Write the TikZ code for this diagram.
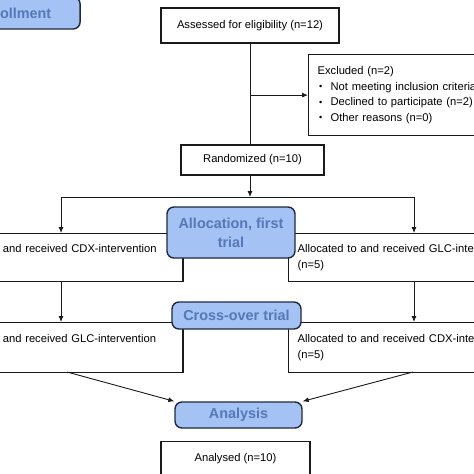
\documentclass[tikz,border=0pt]{standalone}
\usepackage{fontspec}
\setmainfont{Liberation Sans}
\usetikzlibrary{arrows.meta}
\definecolor{stagefill}{HTML}{A4C2F4}
\definecolor{stagetext}{HTML}{5479B6}
\definecolor{stageline}{HTML}{1E2A40}
\definecolor{boxline}{HTML}{1A1A1A}
\newcommand{\exitem}[1]{\hspace*{1.5pt}\makebox[11.5pt][l]{\raisebox{0.5pt}{\small\textbullet}}#1}

\begin{document}
\begin{tikzpicture}[
	x=1pt, y=-1pt,
	>={Latex[length=6pt,width=5pt]},
	flow/.style={draw=boxline, line width=0.9pt},
	box/.style={rectangle, draw=boxline, fill=white, line width=1.2pt, font=\fontsize{11.2}{16}\selectfont, inner sep=0pt},
	arm/.style={box, anchor=north west, minimum height=48pt, text width=234pt, inner xsep=9pt, align=left},
	stage/.style={rectangle, rounded corners=7pt, draw=stageline, fill=stagefill, line width=1.4pt, text=stagetext, font=\fontsize{14.4}{19}\selectfont\bfseries, align=center, inner sep=0pt}
	]
	\clip (0,0) rectangle (474,474);
	\fill[white] (0,0) rectangle (474,474);

	\node[box, minimum width=178pt, minimum height=35pt] (assess) at (250,25.5) {Assessed for eligibility (n=12)};
	\node[box, anchor=north west, minimum height=81pt, text width=200pt, inner xsep=9pt, align=left, font=\fontsize{11.2}{15.5}\selectfont] (excl) at (308,54)
		{Excluded (n=2)\\\exitem{Not meeting inclusion criteria}\\\exitem{Declined to participate (n=2)}\\\exitem{Other reasons (n=0)}};
	\node[box, minimum width=143pt, minimum height=30pt] (rand) at (252.5,160) {Randomized (n=10)};

	\node[arm] (cdxA) at (-69.6,233) {Allocated to and received CDX-intervention\\(n=5)};
	\node[arm] (glcA) at (288,233) {Allocated to and received GLC-intervention\\(n=5)};
	\node[arm, minimum height=50pt] (glcB) at (-69.6,322) {Allocated to and received GLC-intervention\\(n=5)};
	\node[arm, minimum height=50pt] (cdxB) at (288,322) {Allocated to and received CDX-intervention\\(n=5)};
	\node[box, anchor=north, minimum width=149pt, minimum height=33pt] (analysed) at (235.5,441) {Analysed (n=10)};

	\node[stage, minimum width=133pt, minimum height=32pt] (enrol) at (13.6,13) {Enrollment};
	\node[stage, minimum width=128pt, minimum height=51pt] (alloc) at (231,232.5) {Allocation, first\\trial};
	\node[stage, minimum width=129pt, minimum height=27pt] (cross) at (236.5,315.5) {Cross-over trial};
	\node[stage, minimum width=127pt, minimum height=26pt] (analysis) at (238.5,415) {Analysis};

	\coordinate (splitL) at (61,197);
	\coordinate (splitR) at (414,197);
	\coordinate (fromL) at (67,372);
	\coordinate (fromR) at (413,372);

	\draw[flow] (assess.south) -- (assess.south |- rand.north);
	\draw[flow,->] (assess.south |- excl.west) -- (excl.west);
	\draw[flow,->] (assess.south |- rand.south) -- (assess.south |- splitL);
	\draw[flow] (splitL) -- (splitR);
	\draw[flow,->] (splitL) -- (splitL |- cdxA.north);
	\draw[flow,->] (splitR) -- (splitR |- glcA.north);
	\draw[flow,->] (splitL |- cdxA.south) -- (splitL |- glcB.north);
	\draw[flow,->] (splitR |- glcA.south) -- (splitR |- cdxB.north);
	\draw[flow,->] (fromL) -- (analysis.north west);
	\draw[flow,->] (fromR) -- (analysis.north east);
\end{tikzpicture}
\end{document}
